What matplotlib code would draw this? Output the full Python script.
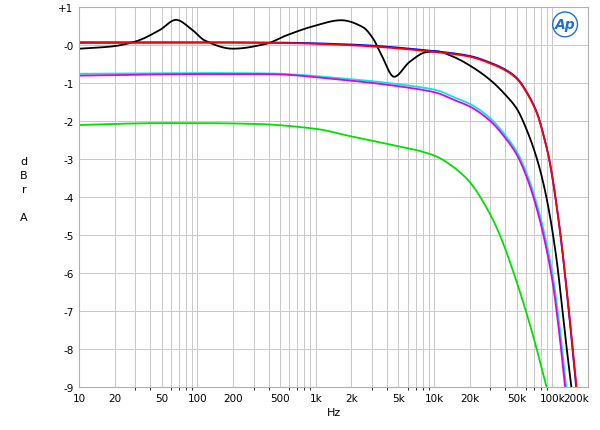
import numpy as np
import matplotlib
matplotlib.use("Agg")
import matplotlib.pyplot as plt
from matplotlib.ticker import FixedLocator, NullFormatter

freq_black = [10,19,30,48,66,91,115,200,383,565,950,1640,2500,3050,3600,4600,6200,8600,10500,14500,20000,30000,40000,50000,62000,75000,89000,107000,130000,146000]
black = [-0.09,-0.03,0.1,0.4,0.67,0.4,0.13,-0.09,0.04,0.26,0.5,0.66,0.48,0.18,-0.26,-0.83,-0.44,-0.18,-0.16,-0.3,-0.53,-0.92,-1.3,-1.67,-2.3,-3.05,-4.0,-5.5,-7.8,-9.1]
freq_rb = [10,100,500,2000,10500,20000,30000,40000,50000,62000,75000,84000,94000,114000,135000,160000]
red = [0.06,0.07,0.06,0.0,-0.18,-0.3,-0.48,-0.66,-0.88,-1.3,-1.84,-2.37,-3.0,-4.7,-6.7,-9.0]
blue = [0.08,0.08,0.07,0.02,-0.16,-0.28,-0.46,-0.64,-0.86,-1.28,-1.82,-2.35,-3.0,-4.72,-6.75,-9.1]
freq_cm = [10,100,383,1800,7500,10500,14500,20000,30000,40000,50000,62000,75000,84000,100000,114000,132000]
cyan = [-0.75,-0.73,-0.74,-0.88,-1.1,-1.18,-1.36,-1.54,-1.93,-2.37,-2.8,-3.45,-4.25,-4.85,-6.0,-7.3,-9.1]
magenta = [-0.8,-0.76,-0.76,-0.92,-1.16,-1.25,-1.43,-1.61,-2.0,-2.44,-2.88,-3.55,-4.38,-5.0,-6.2,-7.55,-9.4]
freq_g = [10,20,50,100,300,1000,2000,5000,7500,10500,14500,20000,30000,36000,52000,68000,91000]
green = [-2.1,-2.07,-2.05,-2.05,-2.07,-2.2,-2.4,-2.66,-2.78,-2.93,-3.2,-3.6,-4.47,-5.0,-6.4,-7.6,-9.1]
major = [10,20,50,100,200,500,1000,2000,5000,10000,20000,50000,100000,200000]
labels = ['10','20','50','100','200','500','1k','2k','5k','10k','20k','50k','100k','200k']
ylabels = ['-9','-8','-7','-6','-5','-4','-3','-2','-1','-0','+1']

def pchip(f, v, n=800):
    x = np.log10(np.asarray(f, float)); y = np.asarray(v, float)
    h = np.diff(x); d = np.diff(y) / h
    m = np.zeros_like(y)
    for i in range(1, len(y) - 1):
        if d[i-1] * d[i] > 0:
            w1 = 2*h[i] + h[i-1]; w2 = h[i] + 2*h[i-1]
            m[i] = (w1 + w2) / (w1/d[i-1] + w2/d[i])
    m[0] = d[0]; m[-1] = d[-1]
    xs = np.linspace(x[0], x[-1], n)
    k = np.clip(np.searchsorted(x, xs) - 1, 0, len(h) - 1)
    t = (xs - x[k]) / h[k]
    h00 = 2*t**3 - 3*t**2 + 1; h10 = t**3 - 2*t**2 + t
    h01 = -2*t**3 + 3*t**2; h11 = t**3 - t**2
    ys = h00*y[k] + h10*h[k]*m[k] + h01*y[k+1] + h11*h[k]*m[k+1]
    return 10**xs, ys

fig = plt.figure(figsize=(6.0, 4.31), dpi=100)
ax = fig.add_axes([0.1317, 0.0998, 0.8483, 0.8809])
ax.set_xscale('log')
ax.set_xlim(10, 200000)
ax.set_ylim(-9, 1)

for f, v, c in [(freq_g, green, '#00e000'), (freq_cm, cyan, '#00e8e8'), (freq_cm, magenta, '#e000e0'),
                (freq_black, black, 'black'), (freq_rb, blue, '#0000ff'), (freq_rb, red, '#ff0000')]:
    x, y = pchip(f, v)
    ax.plot(x, y, color=c, lw=1.3)

ax.xaxis.set_major_locator(FixedLocator(major))
ax.set_xticklabels(labels[:-1] + [''], fontsize=7.5)
ax.annotate(labels[-1], xy=(major[-1], -9), xytext=(-8.5, -4), textcoords='offset points',
            ha='center', va='top', fontsize=7.5, annotation_clip=False)
minor = [m*10**e for e in range(1,6) for m in range(1,10)]
ax.xaxis.set_minor_locator(FixedLocator(minor))
ax.xaxis.set_minor_formatter(NullFormatter())
ax.set_yticks(range(-9, 2))
ax.set_yticklabels(ylabels, fontsize=7.5)
ax.grid(True, which='both', color='#c8c8c8', lw=0.7)
ax.tick_params(length=0, pad=4)
for s in ax.spines.values():
    s.set_color('#b0b0b0')
ax.set_xlabel('Hz', fontsize=8, labelpad=3)
fig.text(0.04, 0.56, 'd\nB\nr\n\nA', fontsize=8, ha='center', va='center', linespacing=1.5)
ax.text(0.955, 0.955, 'Ap', transform=ax.transAxes, fontsize=10, color='#1e6fd0',
        style='italic', fontweight='bold', ha='center', va='center',
        bbox=dict(boxstyle='circle,pad=0.15', fc='white', ec='#1e6fd0', lw=1))
fig.savefig('out.png', dpi=100)
